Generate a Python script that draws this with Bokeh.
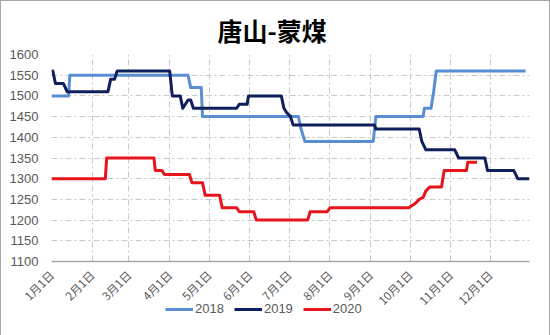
import pandas as pd
from bokeh.plotting import figure
from bokeh.layouts import column
from bokeh.models import Range1d, FixedTicker, Legend, LegendItem, ColumnDataSource
from bokeh.embed import file_html
from bokeh.resources import INLINE

# ---------------- data ----------------
title_text = "唐山-蒙煤"
month_starts = ["01-01", "02-01", "03-01", "04-01", "05-01", "06-01",
                "07-01", "08-01", "09-01", "10-01", "11-01", "12-01"]
month_labels = ["1月1日", "2月1日", "3月1日", "4月1日", "5月1日", "6月1日",
                "7月1日", "8月1日", "9月1日", "10月1日", "11月1日", "12月1日"]
y_ticks = [1100, 1150, 1200, 1250, 1300, 1350, 1400, 1450, 1500, 1550, 1600]

dates_2018 = ["01-01", "01-14", "01-15", "04-15", "04-17", "04-25", "04-26",
              "07-08", "07-10", "07-13", "09-03", "09-05", "10-11", "10-12",
              "10-17", "10-19", "10-21", "12-28"]
price_2018 = [1500, 1500, 1550, 1550, 1520, 1520, 1450,
              1450, 1420, 1390, 1390, 1450, 1450, 1470,
              1470, 1510, 1560, 1560]

dates_2019 = ["01-01", "01-02", "01-04", "01-10", "01-13", "02-13", "02-15",
              "02-18", "02-20", "04-01", "04-03", "04-09", "04-11", "04-15",
              "04-17", "04-19", "05-22", "05-24", "05-30", "05-31", "06-25",
              "06-27", "06-29", "07-02", "07-04", "09-04", "09-05", "10-08",
              "10-10", "10-13", "11-04", "11-07", "11-27", "11-29", "12-19",
              "12-22", "12-31"]
price_2019 = [1560, 1560, 1530, 1530, 1510, 1510, 1540,
              1540, 1560, 1560, 1500, 1500, 1470, 1490,
              1490, 1470, 1470, 1480, 1480, 1500, 1500,
              1470, 1460, 1450, 1430, 1430, 1420, 1420,
              1390, 1370, 1370, 1350, 1350, 1320, 1320,
              1300, 1300]

dates_2020 = ["01-01", "02-11", "02-12", "03-20", "03-21", "03-26", "03-28",
              "04-16", "04-18", "04-26", "04-28", "05-09", "05-11", "05-22",
              "05-24", "06-04", "06-06", "07-15", "07-17", "07-30", "08-01",
              "09-30", "10-05", "10-08", "10-11", "10-13", "10-16", "10-25",
              "10-27", "11-13", "11-14", "11-21"]
price_2020 = [1300, 1300, 1350, 1350, 1320, 1320, 1310,
              1310, 1290, 1290, 1260, 1260, 1230, 1230,
              1220, 1220, 1200, 1200, 1220, 1220, 1230,
              1230, 1240, 1250, 1255, 1270, 1280, 1280,
              1320, 1320, 1340, 1340]

series_names = ["2018", "2019", "2020"]
series_colors = ["#5A8ED4", "#0F1F5C", "#E8141B"]


def doy(md):
    # day index within a (non-leap) year, 1月1日 -> 0
    return pd.Timestamp("2019-" + md).dayofyear - 1


tick_pos = [doy(m) for m in month_starts]
year_end = doy("12-31")

sources = [ColumnDataSource(dict(x=[doy(d) for d in dates], y=prices))
           for dates, prices in zip([dates_2018, dates_2019, dates_2020],
                                    [price_2018, price_2019, price_2020])]

# ---------------- main chart ----------------
p = figure(frame_width=478, frame_height=207, output_backend="svg",
           toolbar_location=None,
           x_range=Range1d(0, year_end), y_range=Range1d(y_ticks[0], y_ticks[-1]),
           min_border_left=50, min_border_right=20, min_border_top=53,
           min_border_bottom=52, background_fill_color="white",
           border_fill_color="white")
p.outline_line_color = None

p.title.text = title_text
p.title.align = "left"
p.title.text_font = "Noto Sans CJK SC"
p.title.text_font_size = "25px"
p.title.text_font_style = "bold"
p.title.text_color = "#000000"
p.title.offset = 166
p.title.standoff = 14

# x axis
p.xaxis.ticker = FixedTicker(ticks=tick_pos)
p.xaxis.major_label_overrides = {t: l for t, l in zip(tick_pos, month_labels)}
p.xaxis.major_label_orientation = 0.785398
p.xaxis.major_label_text_font = "Noto Sans CJK SC"
p.xaxis.major_label_text_font_size = "11.5px"
p.xaxis.major_label_text_color = "#595959"
p.xaxis.major_label_standoff = 5
p.xaxis.axis_line_color = "#A6A6A6"
p.xaxis.axis_line_width = 1.5
p.xaxis.major_tick_line_color = None
p.xaxis.minor_tick_line_color = None

# y axis
p.yaxis.ticker = FixedTicker(ticks=y_ticks)
p.yaxis.major_label_text_font = "Liberation Sans"
p.yaxis.major_label_text_font_size = "13px"
p.yaxis.major_label_text_color = "#595959"
p.yaxis.major_label_standoff = 7
p.yaxis.axis_line_color = None
p.yaxis.major_tick_line_color = None
p.yaxis.minor_tick_line_color = None

# grids
p.xgrid.ticker = FixedTicker(ticks=tick_pos + [year_end])
p.ygrid.ticker = FixedTicker(ticks=y_ticks[1:])
for g in (p.xgrid, p.ygrid):
    g.grid_line_color = "#C8C8C8"
    g.grid_line_dash = "6 3 2 3"
    g.grid_line_width = 1

# lines
for src, color in zip(sources, series_colors):
    p.line("x", "y", source=src, line_color=color, line_width=3,
           line_join="round")

# ---------------- legend strip (transparent, overlapping the bottom) -------
# its ranges lie outside the data, so only the legend keys are visible here
lg = figure(width=548, height=33, output_backend="svg", toolbar_location=None,
            x_axis_type=None, y_axis_type=None, title=None,
            x_range=Range1d(-2, -1), y_range=Range1d(-2, -1),
            min_border_left=0, min_border_right=0, min_border_top=0,
            min_border_bottom=0, background_fill_color=None,
            border_fill_color=None)
lg.outline_line_color = None
lg.styles = {"margin-top": "-12px"}
key_renderers = [lg.line("x", "y", source=src, line_color=c, line_width=3)
                 for src, c in zip(sources, series_colors)]
legend = Legend(items=[LegendItem(label=n, renderers=[r])
                       for n, r in zip(series_names, key_renderers)],
                orientation="horizontal", location=(114, 21),
                padding=0, margin=0, spacing=10, label_standoff=2,
                glyph_width=28, glyph_height=12, label_height=12,
                label_text_font="Liberation Sans", label_text_font_size="13px",
                label_text_color="#595959", background_fill_alpha=0,
                border_line_color=None)
lg.add_layout(legend, "center")

page = column(p, lg, spacing=0)
page.styles = {"border": "1px solid #A6A6A6", "background-color": "white"}

open("out.html", "w").write(file_html(page, INLINE))
